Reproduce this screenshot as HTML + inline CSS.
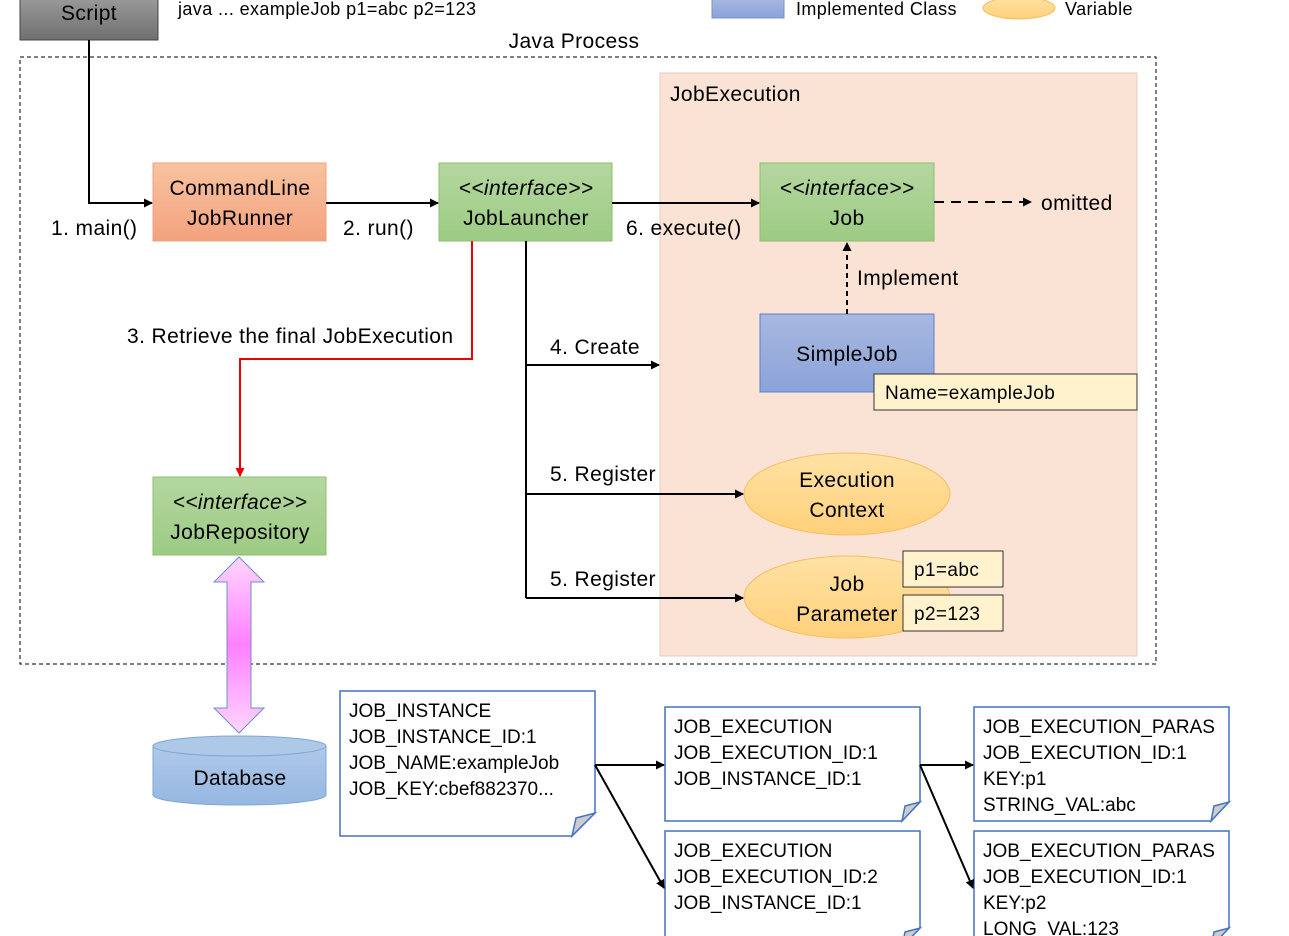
<!DOCTYPE html>
<html><head><meta charset="utf-8"><style>
html,body{margin:0;padding:0;background:#fff;width:1289px;height:936px;overflow:hidden}
svg{display:block;font-family:"Liberation Sans","DejaVu Sans",sans-serif}
</style></head><body>
<svg width="1289" height="936" viewBox="0 0 1289 936" xmlns="http://www.w3.org/2000/svg">
<defs>
<linearGradient id="gray" x1="0" y1="0" x2="0" y2="1"><stop offset="0" stop-color="#9a9a9a"/><stop offset="1" stop-color="#6f6f6f"/></linearGradient>
<linearGradient id="sal" x1="0" y1="0" x2="0" y2="1"><stop offset="0" stop-color="#f8c3a0"/><stop offset="1" stop-color="#f4a27e"/></linearGradient>
<linearGradient id="grn" x1="0" y1="0" x2="0" y2="1"><stop offset="0" stop-color="#b5d7a0"/><stop offset="1" stop-color="#9ccb83"/></linearGradient>
<linearGradient id="blu" x1="0" y1="0" x2="0" y2="1"><stop offset="0" stop-color="#a8b8e0"/><stop offset="1" stop-color="#8ba3d9"/></linearGradient>
<linearGradient id="org" x1="0" y1="0" x2="0" y2="1"><stop offset="0" stop-color="#ffe2a5"/><stop offset="1" stop-color="#ffd07a"/></linearGradient>
<linearGradient id="pink" x1="0" y1="0" x2="0" y2="1"><stop offset="0" stop-color="#ffd6ff"/><stop offset="0.5" stop-color="#ff80ff"/><stop offset="1" stop-color="#ffd6ff"/></linearGradient>
<linearGradient id="db" x1="0" y1="0" x2="0" y2="1"><stop offset="0" stop-color="#b0c9e8"/><stop offset="1" stop-color="#95b7e2"/></linearGradient>
<marker id="ah" markerWidth="9" markerHeight="9" refX="8" refY="4.5" orient="auto" markerUnits="userSpaceOnUse"><path d="M0,0 L9,4.5 L0,9z" fill="#000"/></marker>
<marker id="ahr" markerWidth="9" markerHeight="9" refX="8" refY="4.5" orient="auto" markerUnits="userSpaceOnUse"><path d="M0,0 L9,4.5 L0,9z" fill="#e00"/></marker>
</defs>
<g font-size="21" fill="#000" letter-spacing="0.4">
<rect x="20" y="-2" width="138" height="42" fill="url(#gray)" stroke="#444"/>
<text x="89" y="20" text-anchor="middle">Script</text>
<text x="178" y="15" font-size="18">java ... exampleJob p1=abc p2=123</text>
<rect x="712" y="-2" width="72" height="20" fill="url(#blu)" stroke="#7a93cc"/>
<text x="796" y="15" font-size="18">Implemented Class</text>
<ellipse cx="1019" cy="8" rx="36" ry="11" fill="url(#org)" stroke="#f5c060"/>
<text x="1065" y="15" font-size="18">Variable</text>
<text x="574" y="48" text-anchor="middle">Java Process</text>
<rect x="20" y="57" width="1136" height="607" fill="none" stroke="#000" stroke-dasharray="4,3"/>
<rect x="660" y="73" width="477" height="583" fill="#fae3d5" stroke="#e9cdbf"/>
<text x="670" y="101">JobExecution</text>
<rect x="153" y="163" width="173" height="78" fill="url(#sal)" stroke="#f0a080"/>
<text x="240" y="195" text-anchor="middle">CommandLine</text><text x="240" y="225" text-anchor="middle">JobRunner</text>
<rect x="439" y="163" width="173" height="78" fill="url(#grn)" stroke="#8cbf6f"/>
<text x="526" y="195" text-anchor="middle" font-style="italic">&lt;&lt;interface&gt;&gt;</text><text x="526" y="225" text-anchor="middle">JobLauncher</text>
<rect x="760" y="163" width="174" height="78" fill="url(#grn)" stroke="#8cbf6f"/>
<text x="847" y="195" text-anchor="middle" font-style="italic">&lt;&lt;interface&gt;&gt;</text><text x="847" y="225" text-anchor="middle">Job</text>
<rect x="760" y="314" width="174" height="78" fill="url(#blu)" stroke="#5b7fd0"/>
<text x="847" y="361" text-anchor="middle">SimpleJob</text>
<rect x="874" y="374" width="263" height="36" fill="#fff2cc" stroke="#333"/>
<text x="885" y="399" font-size="19">Name=exampleJob</text>
<rect x="153" y="477" width="173" height="78" fill="url(#grn)" stroke="#8cbf6f"/>
<text x="240" y="509" text-anchor="middle" font-style="italic">&lt;&lt;interface&gt;&gt;</text><text x="240" y="539" text-anchor="middle">JobRepository</text>
<ellipse cx="847" cy="494" rx="103" ry="41" fill="url(#org)" stroke="#f5c060"/>
<text x="847" y="487" text-anchor="middle">Execution</text><text x="847" y="517" text-anchor="middle">Context</text>
<ellipse cx="847" cy="597" rx="103" ry="41" fill="url(#org)" stroke="#f5c060"/>
<text x="847" y="591" text-anchor="middle">Job</text><text x="847" y="621" text-anchor="middle">Parameter</text>
<rect x="903" y="551" width="100" height="36" fill="#fff2cc" stroke="#333"/>
<text x="914" y="576" font-size="19">p1=abc</text>
<rect x="903" y="595" width="100" height="36" fill="#fff2cc" stroke="#333"/>
<text x="914" y="620" font-size="19">p2=123</text>
<g fill="none" stroke="#000" stroke-width="2">
<path d="M89,40 V203 H152" marker-end="url(#ah)"/>
<path d="M326,203 H438" marker-end="url(#ah)"/>
<path d="M612,203 H759" marker-end="url(#ah)"/>
<path d="M934,202 H1031" stroke-dasharray="10,7" marker-end="url(#ah)"/>
<path d="M847,314 V243" stroke-dasharray="5,4" marker-end="url(#ah)"/>
<path d="M526,241 V598"/>
<path d="M526,365 H659" marker-end="url(#ah)"/>
<path d="M526,494 H743" marker-end="url(#ah)"/>
<path d="M526,598 H743" marker-end="url(#ah)"/>
<path d="M472,241 V359 H240 V476" stroke="#e00" marker-end="url(#ahr)"/>
</g>
<text x="51" y="235">1. main()</text>
<text x="343" y="235">2. run()</text>
<text x="626" y="235">6. execute()</text>
<text x="1041" y="210">omitted</text>
<text x="857" y="285">Implement</text>
<text x="127" y="343">3. Retrieve the final JobExecution</text>
<text x="550" y="354">4. Create</text>
<text x="550" y="481">5. Register</text>
<text x="550" y="586">5. Register</text>
<path d="M239,557 L264,582 L251,582 L251,708 L264,708 L239,733 L214,708 L227,708 L227,582 L214,582 Z" fill="url(#pink)" stroke="#6f8fc8"/>
<path d="M153,746 V795 A86.5,10 0 0 0 326,795 V746" fill="url(#db)" stroke="#7ea6d8"/>
<ellipse cx="239.5" cy="746" rx="86.5" ry="10" fill="#aec8e8" stroke="#7ea6d8"/>
<text x="240" y="785" text-anchor="middle">Database</text>
<g fill="#fff" stroke="#4472c4" stroke-width="1.5">
<path d="M340,691 H595 V813 L572,836 H340 Z"/>
<path d="M665,707 H920 V802 L902,821 H665 Z"/>
<path d="M665,831 H920 V928 L902,947 H665 Z"/>
<path d="M974,707 H1229 V802 L1211,821 H974 Z"/>
<path d="M974,831 H1229 V928 L1211,947 H974 Z"/>
</g>
<g fill="#ccc" stroke="#4472c4" stroke-width="1.5">
<path d="M595,813 L572,836 L576,818 Z"/>
<path d="M920,802 L902,821 L905,806 Z"/>
<path d="M1229,802 L1211,821 L1214,806 Z"/>
<path d="M920,928 L902,947 L905,932 Z"/>
<path d="M1229,928 L1211,947 L1214,932 Z"/>
</g>
<g font-size="19" letter-spacing="0">
<text x="349" y="717">JOB_INSTANCE</text><text x="349" y="743">JOB_INSTANCE_ID:1</text><text x="349" y="769">JOB_NAME:exampleJob</text><text x="349" y="795">JOB_KEY:cbef882370...</text>
<text x="674" y="733">JOB_EXECUTION</text><text x="674" y="759">JOB_EXECUTION_ID:1</text><text x="674" y="785">JOB_INSTANCE_ID:1</text>
<text x="674" y="857">JOB_EXECUTION</text><text x="674" y="883">JOB_EXECUTION_ID:2</text><text x="674" y="909">JOB_INSTANCE_ID:1</text>
<text x="983" y="733">JOB_EXECUTION_PARAS</text><text x="983" y="759">JOB_EXECUTION_ID:1</text><text x="983" y="785">KEY:p1</text><text x="983" y="811">STRING_VAL:abc</text>
<text x="983" y="857">JOB_EXECUTION_PARAS</text><text x="983" y="883">JOB_EXECUTION_ID:1</text><text x="983" y="909">KEY:p2</text><text x="983" y="935">LONG_VAL:123</text>
</g>
<g fill="none" stroke="#000" stroke-width="2">
<path d="M595,765 H664" marker-end="url(#ah)"/>
<path d="M595,765 L664,888" marker-end="url(#ah)"/>
<path d="M920,765 H973" marker-end="url(#ah)"/>
<path d="M920,765 L973,888" marker-end="url(#ah)"/>
</g>
</g>
</svg>
</body></html>
